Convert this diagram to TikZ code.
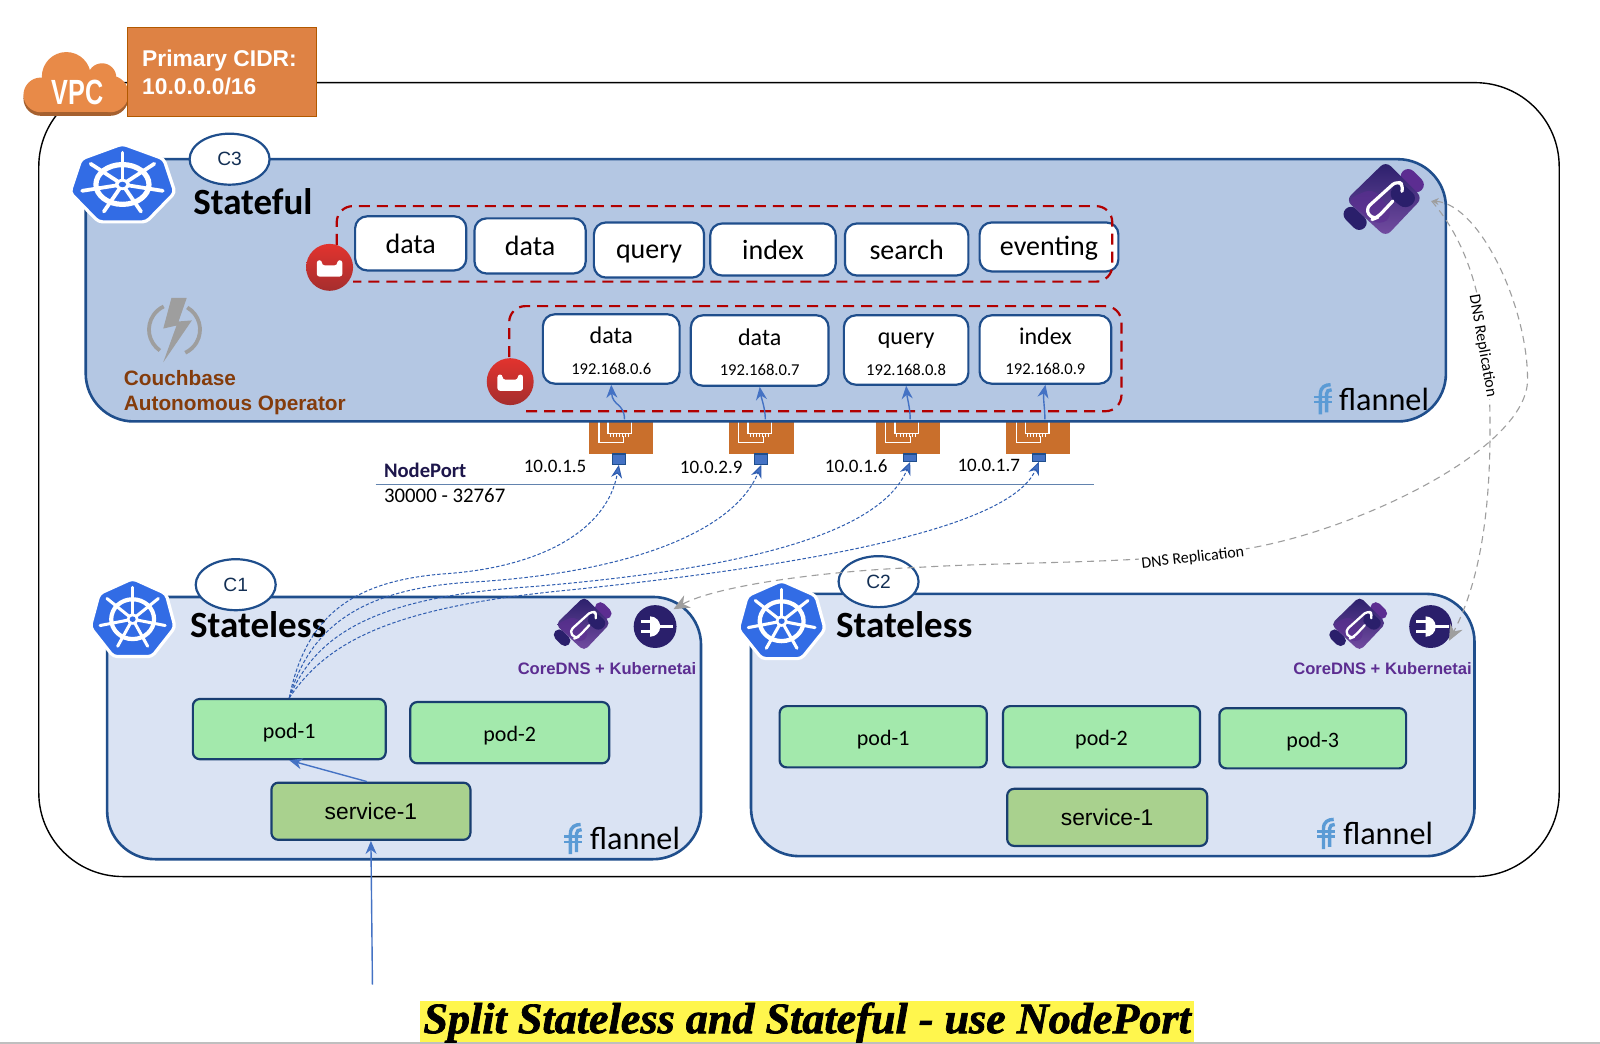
\documentclass[tikz,border=0pt]{standalone}
\usepackage{fontspec}
\setmainfont{Carlito}
\newfontfamily\arialf{Liberation Sans}
\newfontfamily\titlef[BoldItalicFeatures={FakeBold=1.6}]{Liberation Serif}
\usetikzlibrary{arrows.meta,calc,shapes.geometric}
\definecolor{panelA}{HTML}{B4C7E3}
\definecolor{panelB}{HTML}{DAE3F3}
\definecolor{panelline}{HTML}{1F4E8C}
\definecolor{podfill}{HTML}{A3E9AC}
\definecolor{svcfill}{HTML}{A9D18E}
\definecolor{awsorange}{HTML}{C96F2C}
\definecolor{cidr}{HTML}{DE8244}
\definecolor{cloudc}{HTML}{E88A48}
\definecolor{cloudd}{HTML}{A5602F}
\definecolor{k8s}{HTML}{326CE5}
\definecolor{cbred}{HTML}{E2332E}
\definecolor{cbredd}{HTML}{A52E2E}
\definecolor{navy}{HTML}{2A1F6B}
\definecolor{plum}{HTML}{5C2D91}
\definecolor{brownt}{HTML}{843C0C}
\definecolor{arrowblue}{HTML}{4472C4}
\definecolor{dashblue}{HTML}{2F5DB0}
\definecolor{flblue}{HTML}{5B9BD5}
\newlength{\uu}\setlength{\uu}{0.5102pt}
\tikzset{
  panelstyle/.style={draw=panelline,line width=1.3pt,rounded corners=24pt,inner sep=0pt},
  svcbox/.style={draw=panelline,line width=1.1pt,fill=white,rounded corners=6pt,inner sep=0pt,align=center},
  podbox/.style={draw=panelline!80!black,line width=1.1pt,fill=podfill,rounded corners=3.5pt,inner sep=0pt,font=\fontsize{11}{13}\selectfont},
  servicebox/.style={draw=panelline!80!black,line width=1.1pt,fill=svcfill,rounded corners=3.5pt,inner sep=0pt,font=\arialf\fontsize{11.4}{13}\selectfont},
  tagell/.style={draw=panelline,line width=1.1pt,fill=white,ellipse,minimum width=40pt,minimum height=25.5pt,inner sep=0pt,text=panelline!60!black,font=\arialf\fontsize{9.6}{11}\selectfont},
  reddash/.style={draw=red!70!black,line width=1.1pt,dash pattern=on 5.5pt off 3.5pt,rounded corners=8pt},
  ipl/.style={inner sep=0pt,font=\fontsize{9.5}{11}\selectfont},
  bigl/.style={inner sep=0pt,anchor=west,font=\bfseries\fontsize{18.5}{20}\selectfont},
  flan/.style={inner sep=0pt,anchor=west,font=\fontsize{16.1}{18}\selectfont},
  dnsl/.style={inner sep=0pt,anchor=west,text=plum,font=\arialf\bfseries\fontsize{8.3}{10}\selectfont},
  blueline/.style={draw=arrowblue,line width=.7pt,-{Stealth[length=6.5pt,width=5.5pt]}},
  bluedash/.style={draw=dashblue,line width=.5pt,dash pattern=on 1.7pt off 1pt,-{Stealth[length=6.5pt,width=5.5pt,fill=arrowblue]}},
  greydash/.style={draw=black!38,line width=.55pt,dash pattern=on 3.5pt off 2.5pt},
  replabel/.style={fill=white,inner sep=1pt,font=\fontsize{8}{10}\selectfont},
  portbox/.style={draw=panelline,line width=.6pt,fill=arrowblue,inner sep=0pt}
}
% k8s logo: centre, half width, half height
\newcommand{\kubeicon}[4]{%
\begin{scope}[shift={(#1,#2)},xscale=#3,yscale=#4]
  \filldraw[fill=k8s,draw=white,line width=1.6pt,line join=round,rounded corners=2pt]
   (0,-1)--(.78,-.62)--(.99,.22)--(.45,.96)--(-.45,.96)--(-.99,.22)--(-.78,-.62)--cycle;
  \draw[white,line width=.05*#3*1pt] (0,.02) circle[radius=.5];
  \foreach \a/\b in {0/-.78,.6/-.5,.76/.18,.35/.7,-.35/.7,-.76/.18,-.6/-.5}{
    \draw[white,line width=.036*#3*1pt,line cap=round] (0,.02)--(\a,\b);}
  \fill[white] (0,.02) circle[radius=.14];
  \fill[k8s] (0,.02) circle[radius=.07];
\end{scope}}
% coredns link logo: centre, scale
\newcommand{\linkicon}[3]{%
\begin{scope}[shift={(#1,#2)},scale=#3]
  \draw[navy,line width=#3*7.5pt,line cap=round] (-32,14)--(-24,22);
  \draw[plum,line width=#3*7.5pt,line cap=round] (24,-23)--(32,-15);
  \shade[top color=navy,bottom color=plum!85!white,rounded corners=#3*3.5pt]
    (2,-38)--(38,-2)--(2,36)--(-37,0)--cycle;
  \fill[plum,opacity=.6,rounded corners=#3*5pt] (-10,-12)--(-37,0)--(-4,26)--(10,14)--cycle;
  \fill[navy,rounded corners=#3*4pt] (14,-20)--(34,-2)--(22,10)--(4,-4)--cycle;
  \draw[white,line width=#3*1.6pt,line join=round,rounded corners=#3*3pt,line cap=round]
    (18,-9)--(20,-14)--(13,-19)--(-18,9)--(-11,19)--(-6,17)--(9,1);
\end{scope}}
\newcommand{\plugicon}[3]{%
\begin{scope}[shift={(#1,#2)},scale=#3]
  \fill[navy] (0,0) circle[radius=21];
  \fill[white] (-5,-10) arc[start angle=-90,end angle=90,radius=10] --cycle;
  \draw[white,line width=#3*1.7pt] (-14,-5)--(-5,-5) (-14,5)--(-5,5);
  \draw[white,line width=#3*1.5pt] (3,0)--(18,0);
\end{scope}}
\newcommand{\cbicon}[3]{%
\begin{scope}[shift={(#1,#2)}]
  \shade[top color=cbred,middle color=cbred,bottom color=cbredd] (0,0) circle[radius=#3];
  \fill[white,rounded corners=1.3pt] (-12.5,-7)--(-7.5,-7)--(-7.5,-2)--(7.5,-2)--(7.5,-7)--(12.5,-7)--(12.5,9)--(-12.5,9)--cycle;
\end{scope}}
\newcommand{\flannelicon}[2]{%
\begin{scope}[shift={(#1,#2)}]
  \draw[flblue,line width=1.7pt] (-3,15)--(-3,-5) .. controls (-3,-12) and (2,-14) .. (7,-14);
  \draw[flblue,line width=1.7pt] (3,13)--(3,-5) .. controls (3,-8) and (5,-9) .. (8,-9);
  \draw[flblue,line width=1.3pt] (-9,-2)--(8,-2) (-9,3)--(8,3);
\end{scope}}
\newcommand{\chipicon}[2]{%
\begin{scope}[shift={(#1,#2)}]
  \draw[white,line width=.6pt] (10,0)--(10,21)--(34,21)--(34,14);
  \filldraw[fill=awsorange,draw=white,line width=.7pt] (19,0)--(19,12)--(42,12)--(42,0);
  \foreach \t in {21,24,...,40}{\draw[white,line width=.5pt] (\t,12)--(\t,15);}
  \draw[white,line width=.6pt] (48,0)--(51,0);
\end{scope}}
\newcommand{\cloudshape}[1]{%
  \fill[#1] (40,93) circle[radius=17];
  \fill[#1] (65,75) circle[radius=24];
  \fill[#1] (100,76) circle[radius=14];
  \fill[#1] (108,92) circle[radius=18];
  \fill[#1] (40,80) rectangle (108,110);}
\newcommand{\rowa}[1]{\rule[-1pt]{0pt}{12pt}#1}
\newcommand{\podt}[1]{\rule{0pt}{11pt}#1}
\newcommand{\iplabel}[2]{\rule{0pt}{10pt}#1\\[1.3pt]{\fontsize{8.3}{10}\selectfont #2}}
\begin{document}
\begin{tikzpicture}[x=\uu,y=-\uu,>=Stealth]
\useasboundingbox (0,0) rectangle (1568,1023);
\fill[white] (0,0) rectangle (1568,1023);
\draw[black!25,line width=.7pt] (0,1022)--(1568,1022);
% outer VPC
\draw[black,line width=.7pt,rounded corners=42pt] (38,81) rectangle (1528,859);
% orange instances
\fill[awsorange] (577,405) rectangle (640,445);
\fill[awsorange] (714,405) rectangle (778,445);
\fill[awsorange] (858,405) rectangle (921,445);
\fill[awsorange] (986,405) rectangle (1049,445);
\chipicon{577}{413}\chipicon{714}{413}\chipicon{858}{413}\chipicon{986}{413}
\node[portbox,minimum width=13*\uu,minimum height=10*\uu] (port1) at (606.5,450) {};
\node[portbox,minimum width=13*\uu,minimum height=10*\uu] (port2) at (746,450) {};
\node[portbox,minimum width=13*\uu,minimum height=7*\uu] (port3) at (892,448.5) {};
\node[portbox,minimum width=13*\uu,minimum height=7*\uu] (port4) at (1018,448.5) {};
\coordinate (chip1) at (612,411);
\coordinate (chip2) at (750,411);
\coordinate (chip3) at (892,411);
\coordinate (chip4) at (1024,411);
% C3 panel
\node[panelstyle,fill=panelA,minimum width=1333*\uu,minimum height=257*\uu] (c3) at (750.5,284.5) {};
\kubeicon{120}{180}{52}{39}
\node[tagell] (tag3) at (225,156) {C3};
\node[bigl] (stateful) at (189,198) {Stateful};
\tikzset{rowA/.style={svcbox,font=\fontsize{14}{16}\selectfont},
 rowB/.style={svcbox,font=\fontsize{12}{14}\selectfont}}
\node[rowA,minimum width=109*\uu,minimum height=53*\uu] (a1) at (402.5,238.5) {\rowa{data}};
\node[rowA,minimum width=109*\uu,minimum height=54*\uu] (a2) at (519.5,241) {\rowa{data}};
\node[rowA,minimum width=108*\uu,minimum height=54*\uu] (a3) at (636,245) {\rowa{query}};
\node[rowA,minimum width=123*\uu,minimum height=51*\uu] (a4) at (757.5,244.5) {\rowa{index}};
\node[rowA,minimum width=121*\uu,minimum height=51*\uu] (a5) at (888.5,244.5) {\rowa{search}};
\node[rowA,minimum width=136*\uu,minimum height=48*\uu] (a6) at (1028,242) {\rowa{eventing}};
\node[rowB,minimum width=134*\uu,minimum height=68*\uu] (d1) at (599,342) {\iplabel{data}{192.168.0.6}};
\node[rowB,minimum width=135*\uu,minimum height=69*\uu] (d2) at (744.5,343.5) {\iplabel{data}{192.168.0.7}};
\node[rowB,minimum width=122*\uu,minimum height=68*\uu] (d3) at (888,343) {\iplabel{query}{192.168.0.8}};
\node[rowB,minimum width=129*\uu,minimum height=67*\uu] (d4) at (1024.5,342.5) {\iplabel{index}{192.168.0.9}};
\draw[reddash] (330,240)--(330,202)--(1090,202)--(1090,276)--(346,276);
\draw[reddash] (499,350)--(499,300)--(1099,300)--(1099,403)--(515,403);
\cbicon{323}{262}{23}
\cbicon{500}{374}{23}
% lightning
\draw[black!38,line width=1.9pt] (171,323) ++(125:25) arc[start angle=125,end angle=245,radius=25];
\draw[black!38,line width=1.9pt] (171,323) ++(-60:25) arc[start angle=-60,end angle=65,radius=25];
\fill[black!38] (183,292)--(168,292)--(160,322)--(173,319)--(160,355)--(188,314)--(175,315)--cycle;
\node[inner sep=0pt,anchor=north west,align=left,text=brownt,font=\arialf\bfseries\fontsize{10.4}{12.7}\selectfont] (cao) at (121,362.5) {Couchbase\\Autonomous Operator};
\linkicon{1356}{196}{1}
\flannelicon{1297}{391}
\node[flan] (fl3) at (1312,391) {flannel};
% NodePort rule and labels
\draw[panelline!70!white,line width=.6pt] (368,475)--(1072,475);
\node[inner sep=0pt,anchor=west,text=navy!70!black,font=\bfseries\fontsize{10.3}{12}\selectfont] (np) at (376,460.5) {NodePort};
\node[inner sep=0pt,anchor=west,font=\fontsize{10.4}{12}\selectfont] (npr) at (376,485.5) {30000 - 32767};
\node[ipl] (ip1) at (544,457) {10.0.1.5};
\node[ipl] (ip2) at (697,458) {10.0.2.9};
\node[ipl] (ip3) at (839,457) {10.0.1.6};
\node[ipl] (ip4) at (969,456) {10.0.1.7};
% C1 panel
\node[panelstyle,fill=panelB,minimum width=582*\uu,minimum height=257*\uu] (c1) at (396,713.5) {};
\kubeicon{130}{606}{42}{39}
\node[tagell] (tag1) at (231,573) {C1};
\node[bigl] (sl1) at (186,612) {Stateless};
\linkicon{571}{612}{.72}
\plugicon{642}{614}{1}
\node[dnsl] (dns1) at (507,655.5) {CoreDNS + Kubernetai};
\node[podbox,minimum width=189*\uu,minimum height=59*\uu] (p1) at (283.5,714.5) {\podt{pod-1}};
\node[podbox,minimum width=195*\uu,minimum height=60*\uu] (p2) at (499.5,718) {\podt{pod-2}};
\node[servicebox,minimum width=195*\uu,minimum height=56*\uu] (s1) at (363.5,795) {service-1};
\flannelicon{562}{822}
\node[flan] (fl1) at (578,822) {flannel};
% C2 panel
\node[panelstyle,fill=panelB,minimum width=709*\uu,minimum height=257*\uu] (c2) at (1090.5,710.5) {};
\kubeicon{766}{608}{43}{39}
\node[tagell] (tag2) at (861,570) {C2};
\node[bigl] (sl2) at (819,612) {Stateless};
\linkicon{1331}{612}{.72}
\plugicon{1402}{614}{1}
\node[dnsl] (dns2) at (1267,655.5) {CoreDNS + Kubernetai};
\node[podbox,minimum width=203*\uu,minimum height=60*\uu] (q1) at (865.5,722) {\podt{pod-1}};
\node[podbox,minimum width=193*\uu,minimum height=60*\uu] (q2) at (1079.5,722) {\podt{pod-2}};
\node[podbox,minimum width=183*\uu,minimum height=59*\uu] (q3) at (1286.5,723.5) {\podt{pod-3}};
\node[servicebox,minimum width=196*\uu,minimum height=56*\uu] (s2) at (1085,801) {service-1};
\flannelicon{1300}{817}
\node[flan] (fl2) at (1316,817) {flannel};
% short solid arrows
\draw[blueline] (chip1) .. controls (612,395) and (600,398) .. (d1.south);
\draw[blueline] (chip2) .. controls (750,400) and (746,390) .. (d2.south);
\draw[blueline] (chip3) .. controls (892,400) and (889,390) .. (d3.south);
\draw[blueline] (chip4) .. controls (1024,400) and (1022,390) .. (d4.south);
% dashed node port arrows
\draw[bluedash] (p1.north) .. controls (300,600) and (350,568) .. (440,562) .. controls (530,555) and (595,520) .. (port1.south);
\draw[bluedash] (p1.north) .. controls (305,610) and (360,575) .. (470,570) .. controls (620,560) and (720,520) .. (port2.south);
\draw[bluedash] (p1.north) .. controls (310,620) and (370,585) .. (520,575) .. controls (700,560) and (860,530) .. (port3.south);
\draw[bluedash] (p1.north) .. controls (320,630) and (380,595) .. (560,578) .. controls (780,555) and (990,520) .. (port4.south);
% service arrows
\coordinate (ext) at (365,965);
\draw[blueline] (s1.north) ++(-4,0) -- (p1.south);
\draw[blueline] (ext) -- (s1.south);
% DNS replication
\coordinate (dnsA) at (1403,197);
\coordinate (dnsB) at (660,597);
\coordinate (dnsC) at (1420,628);
\draw[greydash,{Stealth[length=3.5pt,width=3.5pt,fill=black!38]}-{Stealth[length=8pt,width=7pt,fill=black!38]}] (dnsA) .. controls (1450,200) and (1497,300) .. (1497,372) .. controls (1497,440) and (1330,520) .. (1220,538) .. controls (1120,553) and (1000,550) .. (900,556) .. controls (800,560) and (700,575) .. (dnsB);
\draw[greydash,-{Stealth[length=8pt,width=7pt,fill=black!38]}] (dnsA) .. controls (1440,240) and (1458,300) .. (1460,400) .. controls (1462,500) and (1450,570) .. (dnsC);
\node[replabel,rotate=-80] (rep1) at (1453,339) {DNS Replication};
\node[replabel,rotate=6.5] (rep2) at (1169,547) {DNS Replication};
% VPC cloud and CIDR
\begin{scope}[shift={(0,3.5)}]\cloudshape{cloudd}\end{scope}
\cloudshape{cloudc}
\node[inner sep=0pt,text=white,font=\arialf\bfseries\fontsize{17.5}{20}\selectfont] (vpc) at (76,91) {\scalebox{.72}[1]{VPC}};
\node[fill=cidr,draw=orange!70!black,line width=.4pt,inner sep=0pt,minimum width=185*\uu,minimum height=87*\uu] (cidrbox) at (217.5,70.5) {};
\node[inner sep=0pt,anchor=west,align=left,text=white,font=\arialf\bfseries\fontsize{11.4}{14}\selectfont] (cidrt) at (139,71) {Primary CIDR:\\10.0.0.0/16};
% title
\fill[yellow!70!white] (412,981) rectangle (1170,1021);
\node[inner sep=0pt,font=\titlef\bfseries\itshape] (title) at (791,1002) {\resizebox{752\uu}{30\uu}{Split Stateless and Stateful - use NodePort}};
\end{tikzpicture}
\end{document}
